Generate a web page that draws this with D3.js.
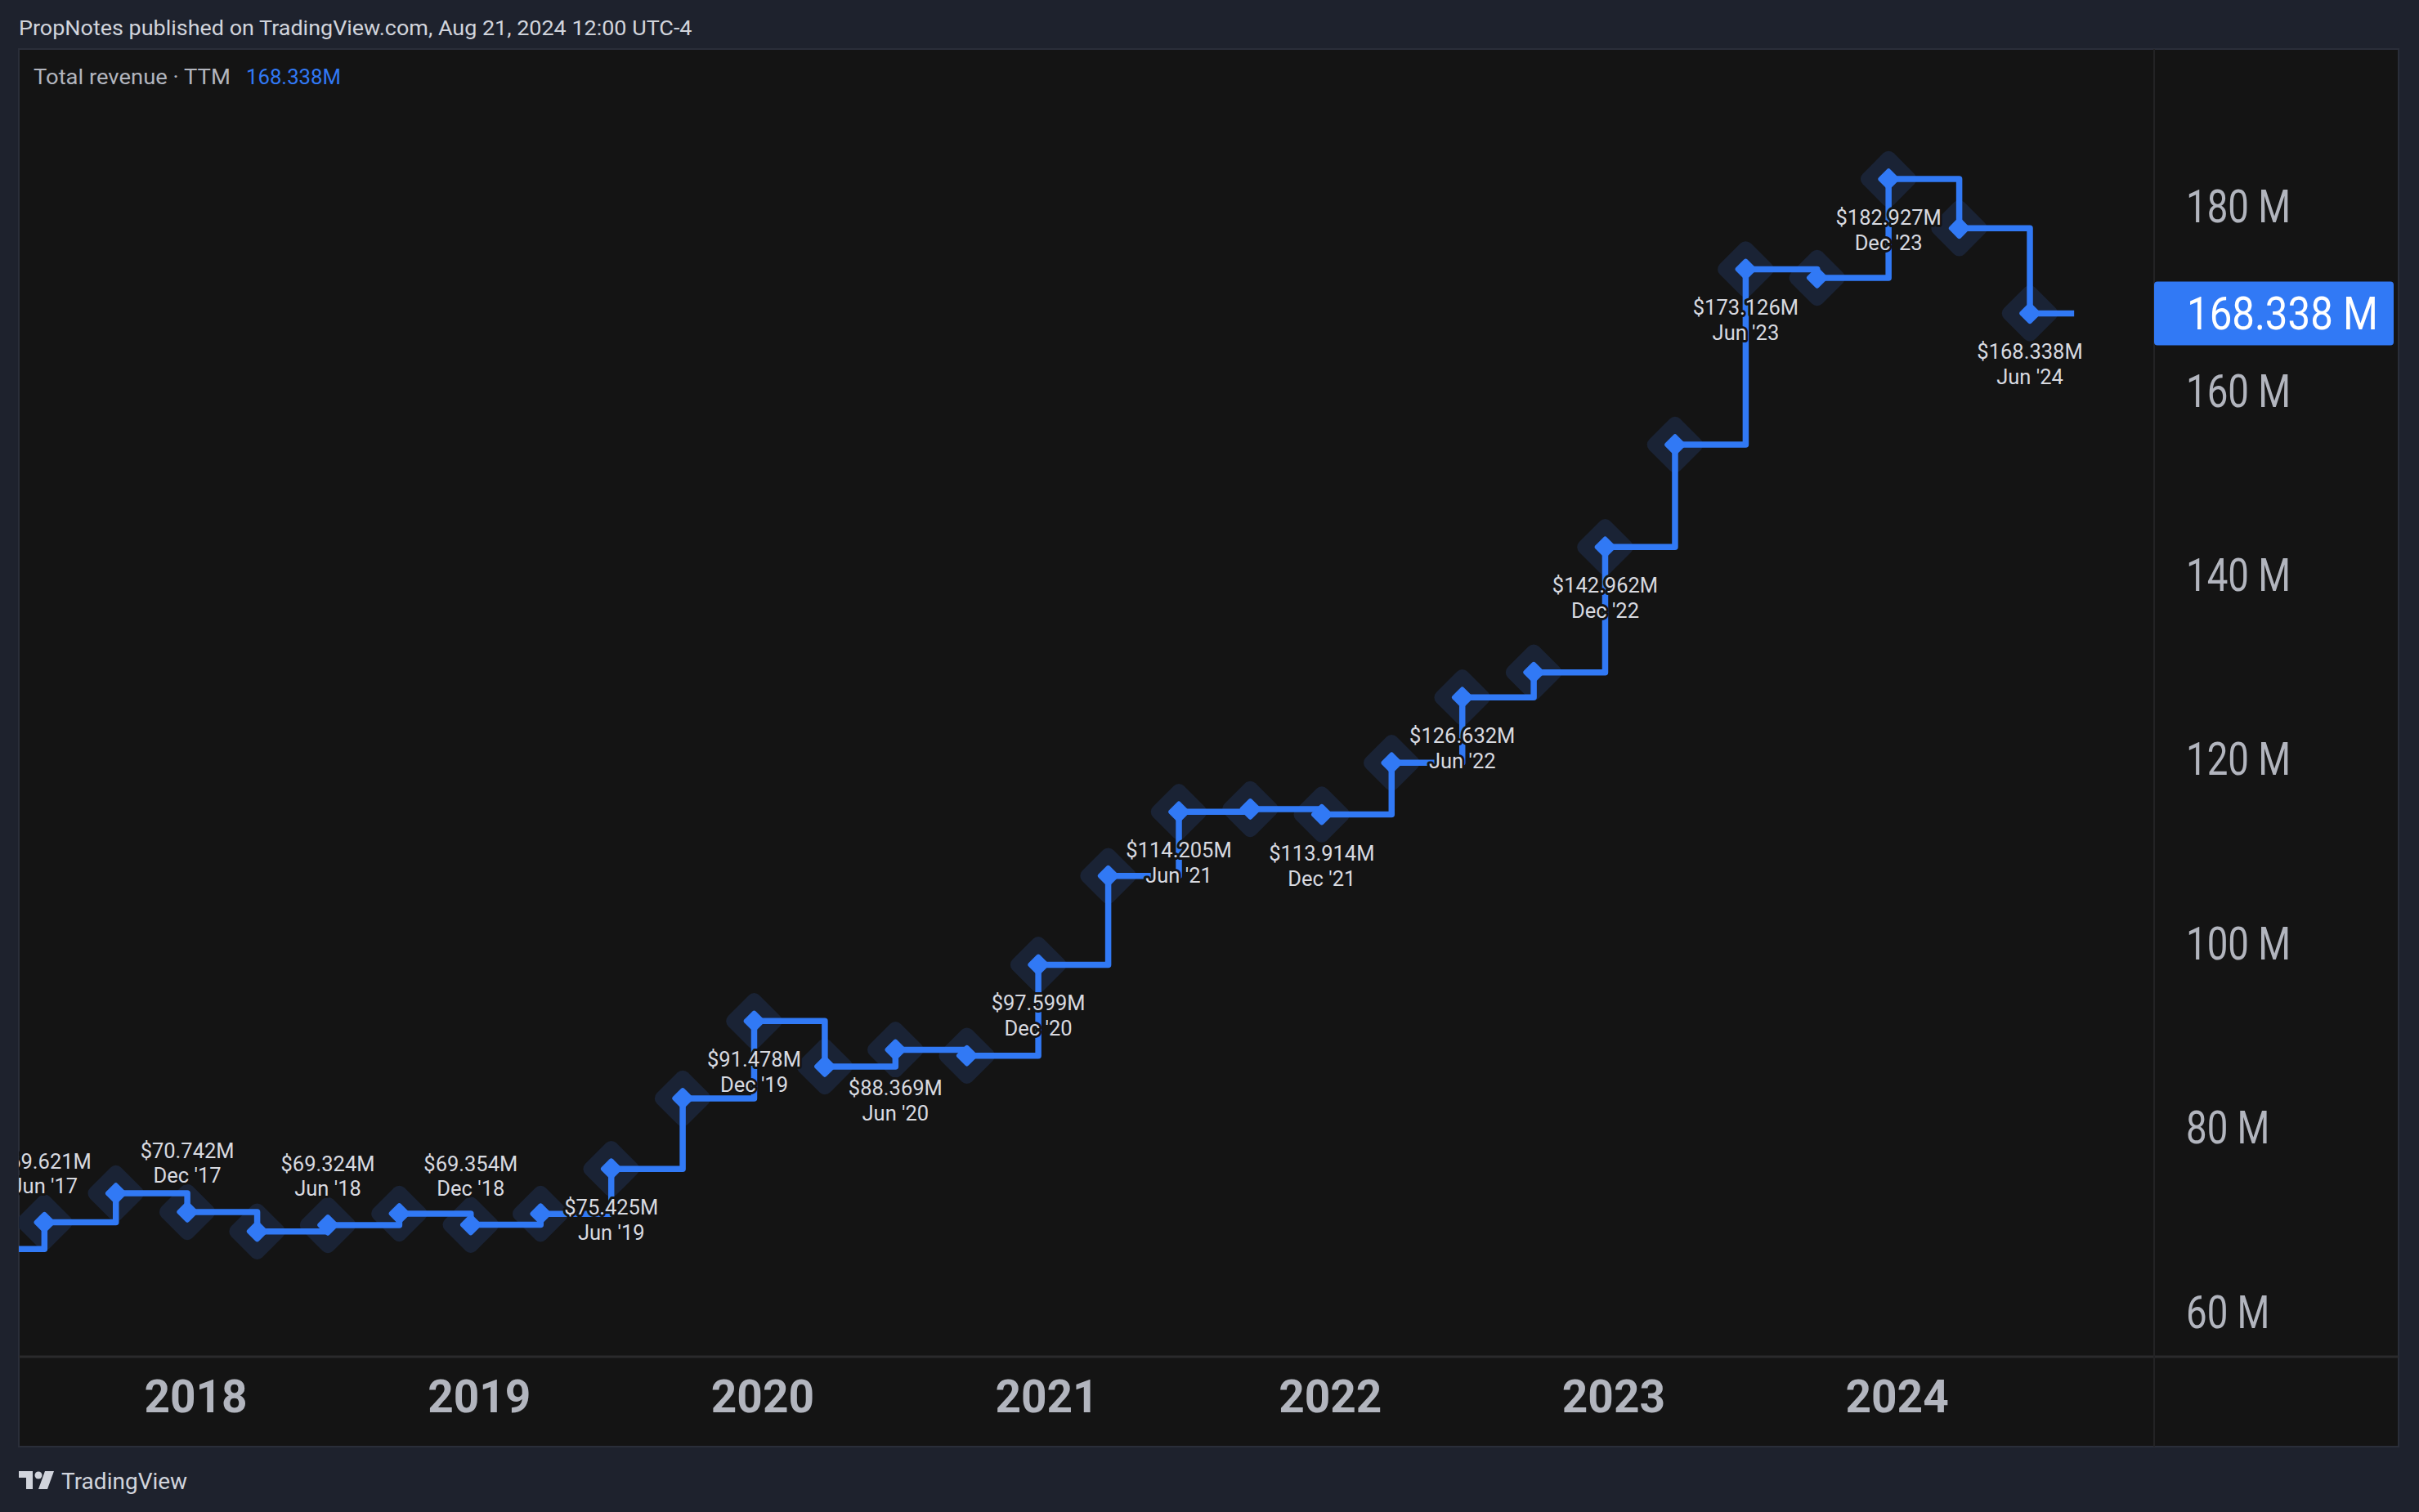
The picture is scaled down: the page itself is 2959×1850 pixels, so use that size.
<!DOCTYPE html>
<html>
<head>
<meta charset="utf-8">
<script src="https://cdn.jsdelivr.net/npm/d3@7"></script>
<style>
  html, body { margin: 0; padding: 0; background: #1e222d; }
  svg { display: block; }
  text { font-family: Roboto, "Noto Sans", sans-serif; }
</style>
</head>
<body>
<svg id="chart" width="2959" height="1850"></svg>
<script>
// ---------- data ----------
const quarterEnds = [
  "2017-03-31","2017-06-30","2017-09-30","2017-12-31",
  "2018-03-31","2018-06-30","2018-09-30","2018-12-31",
  "2019-03-31","2019-06-30","2019-09-30","2019-12-31",
  "2020-03-31","2020-06-30","2020-09-30","2020-12-31",
  "2021-03-31","2021-06-30","2021-09-30","2021-12-31",
  "2022-03-31","2022-06-30","2022-09-30","2022-12-31",
  "2023-03-31","2023-06-30","2023-09-30","2023-12-31",
  "2024-03-31","2024-06-30"
];
const revenueTTM = [
  66.72, 69.621, 72.78, 70.742,
  68.64, 69.324, 70.57, 69.354,
  70.55, 75.425, 83.08, 91.478,
  86.54, 88.369, 87.72, 97.599,
  107.25, 114.205, 114.5, 113.914,
  119.53, 126.632, 129.35, 142.962,
  154.08, 173.126, 172.19, 182.927,
  177.58, 168.338
];
const lastDate = "2024-08-26";
const yTicks = [60, 80, 100, 120, 140, 160, 180];
const yearTicks = ["2018","2019","2020","2021","2022","2023","2024"];
const headerText = "PropNotes published on TradingView.com, Aug 21, 2024 12:00 UTC-4";
const legendName = "Total revenue · TTM";
const monthNames = ["Jan","Feb","Mar","Apr","May","Jun","Jul","Aug","Sep","Oct","Nov","Dec"];

// ---------- layout ----------
const W = 2959, H = 1850;
const panel = {x0: 23, y0: 60, x1: 2934, y1: 1770};
const plot = {left: 23, right: 2635, top: 60, bottom: 1660};
const BLUE = "#3179f5";
const PANEL_BG = "#141414";

const parse = d3.utcParse("%Y-%m-%d");
const data = quarterEnds.map((d, i) => ({date: parse(d), value: revenueTTM[i]}));
const lineData = data.concat([{date: parse(lastDate), value: revenueTTM[revenueTTM.length - 1]}]);

const x = d3.scaleUtc()
  .domain([parse("2017-05-28"), parse("2024-12-07")])
  .range([plot.left, plot.right]);
const y = d3.scaleLinear()
  .domain([55.03, 197.04])
  .range([plot.bottom, plot.top]);

const svg = d3.select("#chart");

// horizontally fit a text (anchored at start) to a target width
function fitText(sel, x0, yb, width) {
  const w = sel.node().getComputedTextLength();
  sel.attr("x", 0).attr("y", 0)
    .attr("transform", `translate(${x0},${yb}) scale(${width / w},1)`);
}

// backgrounds
svg.append("rect").attr("width", W).attr("height", H).attr("fill", "#1e222d");
svg.append("rect")
  .attr("x", panel.x0).attr("y", panel.y0)
  .attr("width", panel.x1 - panel.x0).attr("height", panel.y1 - panel.y0)
  .attr("fill", PANEL_BG).attr("stroke", "#2a2e39").attr("stroke-width", 2);

// separators
svg.append("line")
  .attr("x1", panel.x0).attr("x2", panel.x1)
  .attr("y1", plot.bottom).attr("y2", plot.bottom)
  .attr("stroke", "#2a2a2c").attr("stroke-width", 3);
svg.append("line")
  .attr("x1", plot.right).attr("x2", plot.right)
  .attr("y1", panel.y0).attr("y2", panel.y1)
  .attr("stroke", "#232325").attr("stroke-width", 2);

// header
const hdr = svg.append("text")
  .attr("font-size", 25.5).attr("fill", "#d1d4dc")
  .text(headerText);
fitText(hdr, 23, 43, 824);

// clip
svg.append("defs").append("clipPath").attr("id", "plotclip")
  .append("rect")
  .attr("x", plot.left).attr("y", plot.top)
  .attr("width", plot.right - plot.left).attr("height", plot.bottom - plot.top);

const g = svg.append("g").attr("clip-path", "url(#plotclip)");

// halos
const haloHalf = 38, dotHalf = 14;
g.selectAll("rect.halo").data(data).join("rect")
  .attr("class", "halo")
  .attr("x", -haloHalf / Math.SQRT2).attr("y", -haloHalf / Math.SQRT2)
  .attr("width", haloHalf * Math.SQRT2).attr("height", haloHalf * Math.SQRT2)
  .attr("rx", 9).attr("ry", 9)
  .attr("fill", "#1a2335")
  .attr("transform", d => `translate(${x(d.date)},${y(d.value)}) rotate(45)`);

// step line
const line = d3.line()
  .x(d => x(d.date)).y(d => y(d.value))
  .curve(d3.curveStepAfter);
g.append("path")
  .datum(lineData)
  .attr("d", line)
  .attr("fill", "none")
  .attr("stroke", BLUE)
  .attr("stroke-width", 7.5)
  .attr("stroke-linejoin", "round");

// dots
g.selectAll("rect.dot").data(data).join("rect")
  .attr("class", "dot")
  .attr("x", -dotHalf / Math.SQRT2).attr("y", -dotHalf / Math.SQRT2)
  .attr("width", dotHalf * Math.SQRT2).attr("height", dotHalf * Math.SQRT2)
  .attr("rx", 3).attr("ry", 3)
  .attr("fill", BLUE)
  .attr("transform", d => `translate(${x(d.date)},${y(d.value)}) rotate(45)`);

// value labels (June and December)
const labeled = data.filter(d => {
  const m = d.date.getUTCMonth();
  return m === 5 || m === 11;
});
const aboveCutoff = parse("2019-03-01");
const lbl = g.selectAll("g.lbl").data(labeled).join("g")
  .attr("class", "lbl")
  .attr("transform", d => `translate(${x(d.date)},${y(d.value)})`);
lbl.each(function(d) {
  const above = d.date < aboveCutoff;
  const sel = d3.select(this);
  const lines = [
    "$" + d.value.toFixed(3) + "M",
    monthNames[d.date.getUTCMonth()] + " '" + String(d.date.getUTCFullYear()).slice(2)
  ];
  const offs = above ? [-66, -36] : [56, 87];
  lines.forEach((t, i) => {
    sel.append("text")
      .attr("x", 0).attr("y", offs[i])
      .attr("text-anchor", "middle")
      .attr("font-size", 25.5)
      .attr("fill", "#d8dae0")
      .attr("stroke", PANEL_BG).attr("stroke-width", 6)
      .attr("stroke-linejoin", "round")
      .attr("paint-order", "stroke")
      .text(t);
  });
});

// legend
const legName = svg.append("text").attr("font-size", 25).attr("fill", "#b2b5be").text(legendName);
fitText(legName, 41, 103, 241);
const legVal = svg.append("text").attr("font-size", 25).attr("fill", BLUE)
  .text(revenueTTM[revenueTTM.length - 1].toFixed(3) + "M");
fitText(legVal, 301, 103, 116);

// y axis
const yAxis = d3.axisRight(y).tickValues(yTicks).tickSize(0)
  .tickFormat(d => d + " M");
const yg = svg.append("g").attr("transform", `translate(${plot.right},0)`).call(yAxis);
yg.select(".domain").remove();
yg.selectAll("text")
  .attr("x", 0).attr("dy", 0).attr("y", 0)
  .attr("font-size", 55).attr("fill", "#b2b5be")
  .attr("text-anchor", "start")
  .attr("font-family", "Roboto, sans-serif")
  .attr("transform", "translate(39,20) scale(0.83,1)");

// last value badge
const lastV = revenueTTM[revenueTTM.length - 1];
svg.append("rect")
  .attr("x", plot.right).attr("y", y(lastV) - 39)
  .attr("width", 2928 - plot.right).attr("height", 78)
  .attr("rx", 4).attr("fill", BLUE);
const badgeT = svg.append("text")
  .attr("font-size", 55).attr("fill", "#ffffff")
  .text(lastV.toFixed(3) + " M");
fitText(badgeT, 2675, y(lastV) + 20, 234);

// x axis
const xAxis = d3.axisBottom(x)
  .tickValues(yearTicks.map(s => parse(s + "-01-01")))
  .tickSize(0)
  .tickFormat(d3.utcFormat("%Y"));
const xg = svg.append("g").attr("transform", `translate(0,${plot.bottom})`).call(xAxis);
xg.select(".domain").remove();
xg.selectAll("text")
  .attr("y", 68).attr("dy", 0).attr("dx", 9)
  .attr("font-size", 55).attr("font-weight", "bold")
  .attr("fill", "#b2b5be")
  .attr("font-family", "Roboto, sans-serif");

// footer logo + text
const logo = svg.append("g").attr("fill", "#d1d4dc");
logo.append("path").attr("d", "M23 1800 H40 V1822 H32 V1808 H23 Z");
logo.append("circle").attr("cx", 47).attr("cy", 1805).attr("r", 4.5);
logo.append("path").attr("d", "M55 1800 H66 L58 1822 H47 Z");
svg.append("text")
  .attr("x", 75).attr("y", 1822)
  .attr("font-size", 28).attr("fill", "#d1d4dc")
  .text("TradingView");
</script>
</body>
</html>
